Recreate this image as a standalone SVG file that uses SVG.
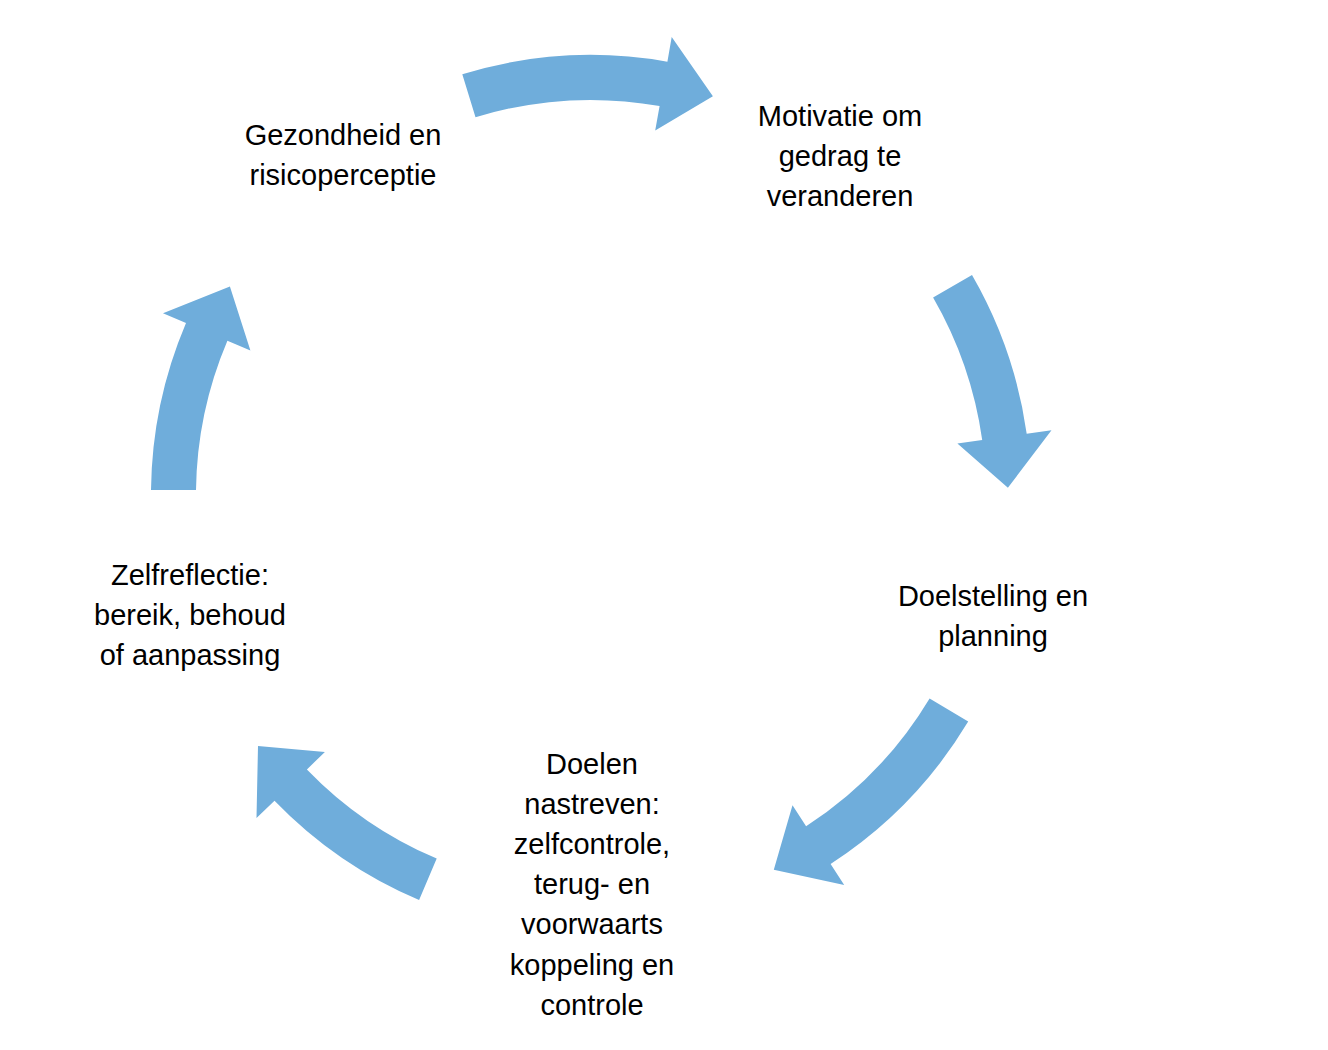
<svg xmlns="http://www.w3.org/2000/svg" width="1328" height="1050" viewBox="0 0 1328 1050">
<style>
.a{fill:#6FADDB;stroke:none}
.t{font-family:"Liberation Sans",Arial,sans-serif;font-size:29px;fill:#000;text-anchor:middle}
</style>
<rect width="1328" height="1050" fill="#fff"/>
<g id="connectors">
<path class="a" d="M462.3,74.2 A440,440 0 0 1 667.4,61.7 L671.7,37.1 L712.9,96.2 L655.2,130.6 L659.6,106 A395,395 0 0 0 475.5,117.3 Z"/>
<path class="a" d="M972,275 A440,440 0 0 1 1026.7,433.8 L1051.5,430.3 L1007.9,487.7 L957.4,443.5 L982.2,440 A395,395 0 0 0 933.1,297.5 Z"/>
<path class="a" d="M968.2,721.6 A440,440 0 0 1 830.6,864 L844.2,885 L773.8,869.8 L792.5,805.3 L806.1,826.3 A395,395 0 0 0 929.6,698.4 Z"/>
<path class="a" d="M419.1,900 A440,440 0 0 1 274.5,800.7 L256.5,818 L258,746 L324.9,752 L306.9,769.4 A395,395 0 0 0 436.7,858.6 Z"/>
<path class="a" d="M151,490 A440,440 0 0 1 186,323.1 L163,313.3 L229.9,286.5 L250.4,350.4 L227.4,340.7 A395,395 0 0 0 196,490 Z"/>
</g>
<g id="n1"><text class="t" x="343" y="145">Gezondheid en</text><text class="t" x="343" y="185">risicoperceptie</text></g>
<g id="n2"><text class="t" x="840" y="126">Motivatie om</text><text class="t" x="840" y="166">gedrag te</text><text class="t" x="840" y="206">veranderen</text></g>
<g id="n3"><text class="t" x="993" y="606">Doelstelling en</text><text class="t" x="993" y="646">planning</text></g>
<g id="n4"><text class="t" x="592" y="774">Doelen</text><text class="t" x="592" y="814">nastreven:</text><text class="t" x="592" y="854">zelfcontrole,</text><text class="t" x="592" y="894">terug- en</text><text class="t" x="592" y="934">voorwaarts</text><text class="t" x="592" y="975">koppeling en</text><text class="t" x="592" y="1015">controle</text></g>
<g id="n5"><text class="t" x="190" y="585">Zelfreflectie:</text><text class="t" x="190" y="625">bereik, behoud</text><text class="t" x="190" y="665">of aanpassing</text></g>
</svg>
